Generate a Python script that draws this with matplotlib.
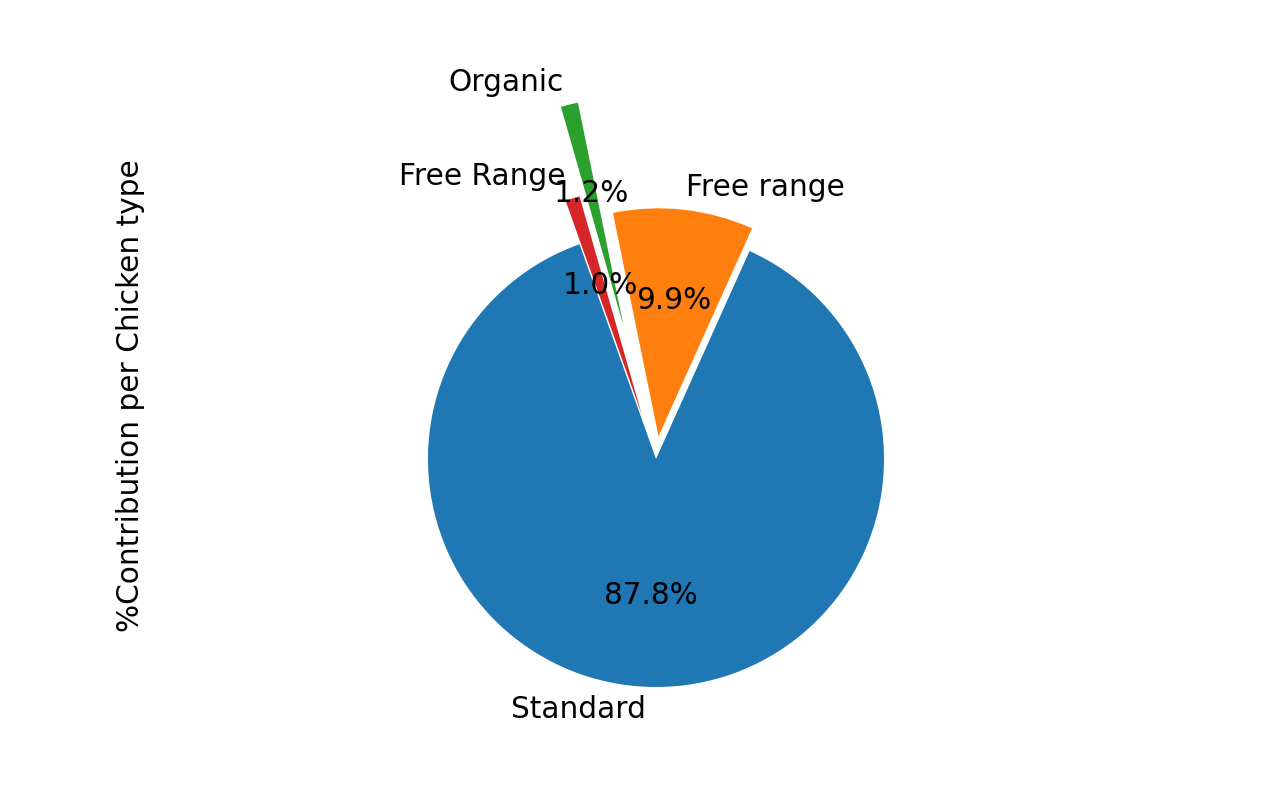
import matplotlib
matplotlib.use("Agg")
import matplotlib.pyplot as plt

labels = ["Standard", "Free range", "Organic", "Free Range"]
values = [87.83, 9.93, 1.22, 1.02]
explode = [0.0, 0.1, 0.6, 0.2]
colors = ["#1f77b4", "#ff7f0e", "#2ca02c", "#d62728"]
ylabel = "%Contribution per Chicken type"

fig = plt.figure(figsize=(12.8, 7.96), dpi=100)
ax = fig.add_axes([160 / 1280, 88 / 796, 992 / 1280, 612 / 796])
ax.pie(values, labels=labels, explode=explode, colors=colors,
       autopct="%1.1f%%", startangle=109.6,
       textprops={"fontsize": 21.3})
ax.set_aspect("auto")
ax.set_xlim(-496 / 228, 496 / 228)
ax.set_ylim(-249 / 228, (612 - 249) / 228)
ax.set_ylabel(ylabel, fontsize=21.3, labelpad=10)
ax.yaxis.set_label_coords(-0.0155, 0.51)
fig.savefig("out.png", dpi=100)
